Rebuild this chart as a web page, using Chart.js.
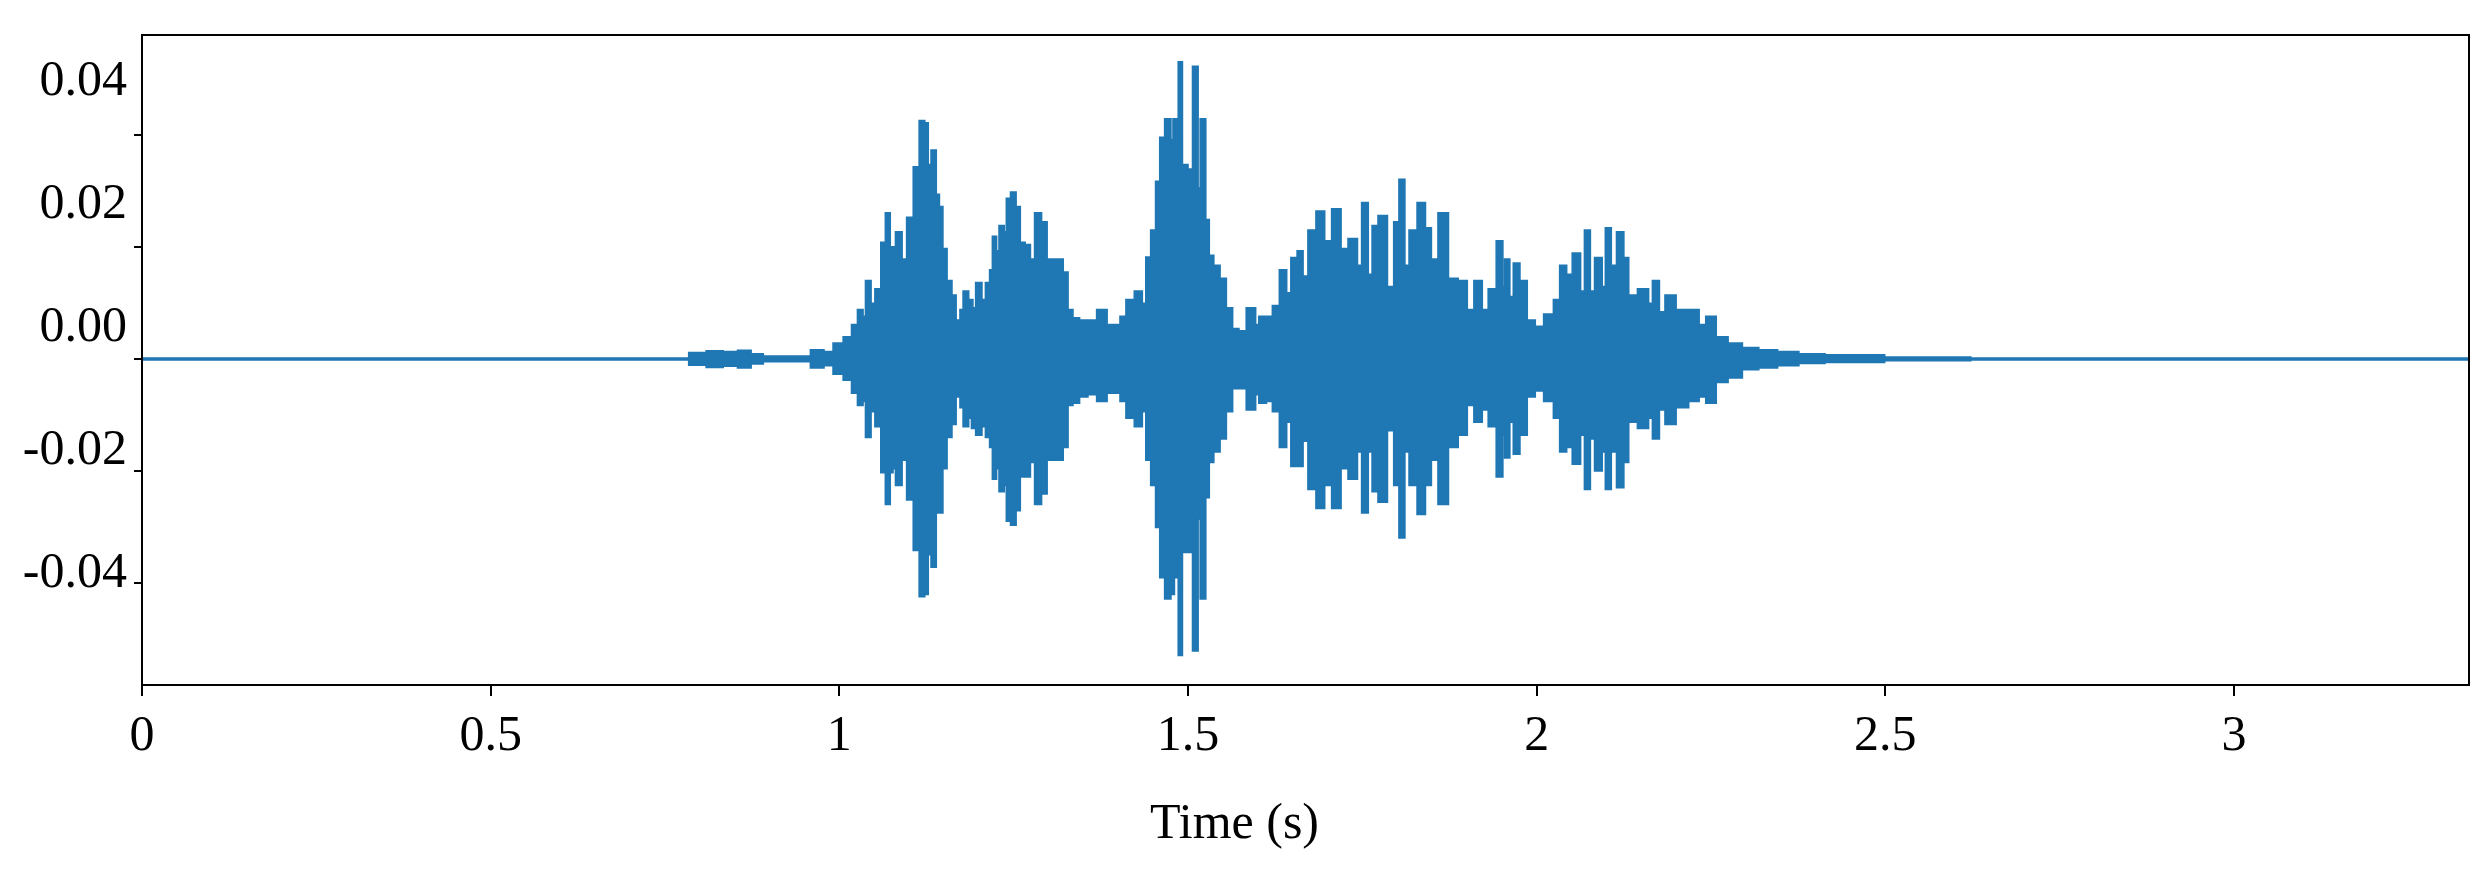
<!DOCTYPE html>
<html>
<head>
<meta charset="utf-8">
<script src="https://cdn.jsdelivr.net/npm/chart.js@4.4.1/dist/chart.umd.min.js"></script>
<style>
  html, body { margin: 0; padding: 0; background: #fff; }
  #wrap { width: 2487px; height: 872px; }
</style>
</head>
<body>
<div id="wrap"><canvas id="myChart"></canvas></div>
<script>
// envelope of the waveform (time in s, max / min per slot)
const time = [0.000, 0.770, 0.800, 0.820, 0.845, 0.865, 0.880, 0.900, 0.950, 0.969,
  0.985, 0.999, 1.014, 1.023, 1.031, 1.035, 1.042, 1.047, 1.057, 1.064,
  1.070, 1.074, 1.078, 1.085, 1.093, 1.102, 1.112, 1.119, 1.124, 1.129,
  1.136, 1.140, 1.145, 1.150, 1.157, 1.164, 1.169, 1.172, 1.176, 1.181,
  1.188, 1.193, 1.200, 1.207, 1.214, 1.219, 1.222, 1.227, 1.233, 1.238,
  1.243, 1.250, 1.255, 1.262, 1.269, 1.277, 1.285, 1.293, 1.301, 1.315,
  1.325, 1.329, 1.339, 1.348, 1.363, 1.377, 1.389, 1.401, 1.406, 1.418,
  1.430, 1.437, 1.444, 1.451, 1.458, 1.463, 1.472, 1.477, 1.482, 1.486,
  1.488, 1.494, 1.504, 1.511, 1.516, 1.521, 1.528, 1.531, 1.541, 1.549,
  1.559, 1.567, 1.577, 1.592, 1.600, 1.605, 1.618, 1.626, 1.638, 1.643,
  1.654, 1.661, 1.667, 1.679, 1.690, 1.700, 1.714, 1.723, 1.738, 1.746,
  1.754, 1.761, 1.769, 1.778, 1.792, 1.800, 1.807, 1.813, 1.823, 1.836,
  1.843, 1.853, 1.866, 1.879, 1.894, 1.905, 1.917, 1.925, 1.938, 1.948,
  1.953, 1.957, 1.964, 1.971, 1.979, 1.992, 2.002, 2.020, 2.030, 2.038,
  2.046, 2.058, 2.066, 2.073, 2.079, 2.089, 2.097, 2.102, 2.110, 2.121,
  2.127, 2.135, 2.156, 2.163, 2.171, 2.179, 2.191, 2.207, 2.227, 2.237,
  2.250, 2.263, 2.284, 2.304, 2.331, 2.358, 2.392, 2.433, 2.563, 2.680,
  3.340];

const upper = [0, 0, 0.0010, 0.0013, 0.0012, 0.0014, 0.0008, 0.0004, 0.0004, 0.0015,
  0.0012, 0.0027, 0.0038, 0.0060, 0.0087, 0.0075, 0.0139, 0.0098, 0.0124, 0.0207,
  0.0260, 0.0181, 0.0199, 0.0226, 0.0177, 0.0252, 0.0342, 0.0425, 0.0421, 0.0346,
  0.0372, 0.0293, 0.0271, 0.0196, 0.0139, 0.0113, 0.0068, 0.0053, 0.0087, 0.0120,
  0.0105, 0.0090, 0.0135, 0.0105, 0.0135, 0.0158, 0.0218, 0.0192, 0.0237, 0.0226,
  0.0286, 0.0297, 0.0271, 0.0207, 0.0203, 0.0177, 0.0260, 0.0244, 0.0177, 0.0177,
  0.0154, 0.0087, 0.0072, 0.0068, 0.0068, 0.0087, 0.0060, 0.0060, 0.0075, 0.0105,
  0.0120, 0.0098, 0.0181, 0.0229, 0.0316, 0.0395, 0.0428, 0.0391, 0.0428, 0.0308,
  0.0530, 0.0346, 0.0338, 0.0522, 0.0304, 0.0428, 0.0248, 0.0184, 0.0166, 0.0143,
  0.0090, 0.0053, 0.0049, 0.0090, 0.0060, 0.0075, 0.0075, 0.0094, 0.0158, 0.0117,
  0.0180, 0.0192, 0.0147, 0.0229, 0.0263, 0.0210, 0.0267, 0.0196, 0.0214, 0.0166,
  0.0278, 0.0150, 0.0237, 0.0255, 0.0128, 0.0244, 0.0320, 0.0166, 0.0229, 0.0278,
  0.0233, 0.0177, 0.0260, 0.0143, 0.0139, 0.0087, 0.0139, 0.0087, 0.0124, 0.0210,
  0.0128, 0.0177, 0.0110, 0.0170, 0.0139, 0.0068, 0.0057, 0.0079, 0.0105, 0.0166,
  0.0150, 0.0188, 0.0120, 0.0229, 0.0120, 0.0180, 0.0128, 0.0233, 0.0166, 0.0226,
  0.0180, 0.0113, 0.0124, 0.0098, 0.0139, 0.0083, 0.0113, 0.0087, 0.0087, 0.0060,
  0.0075, 0.0038, 0.0027, 0.0019, 0.0015, 0.0012, 0.0008, 0.0006, 0.0002, 0,
  0];

const lower = [0, 0, -0.0010, -0.0014, -0.0012, -0.0015, -0.0008, -0.0004, -0.0004, -0.0015,
  -0.0011, -0.0026, -0.0037, -0.0060, -0.0082, -0.0075, -0.0139, -0.0093, -0.0120, -0.0202,
  -0.0259, -0.0202, -0.0195, -0.0225, -0.0180, -0.0251, -0.0341, -0.0424, -0.0420, -0.0349,
  -0.0371, -0.0274, -0.0274, -0.0195, -0.0139, -0.0116, -0.0067, -0.0052, -0.0086, -0.0120,
  -0.0105, -0.0123, -0.0135, -0.0120, -0.0139, -0.0157, -0.0214, -0.0195, -0.0236, -0.0225,
  -0.0289, -0.0296, -0.0270, -0.0210, -0.0210, -0.0184, -0.0259, -0.0240, -0.0180, -0.0180,
  -0.0157, -0.0082, -0.0078, -0.0067, -0.0063, -0.0075, -0.0060, -0.0060, -0.0075, -0.0105,
  -0.0120, -0.0093, -0.0180, -0.0225, -0.0300, -0.0390, -0.0428, -0.0420, -0.0390, -0.0345,
  -0.0529, -0.0345, -0.0345, -0.0521, -0.0285, -0.0428, -0.0247, -0.0184, -0.0165, -0.0142,
  -0.0093, -0.0052, -0.0052, -0.0090, -0.0063, -0.0078, -0.0075, -0.0093, -0.0157, -0.0112,
  -0.0191, -0.0191, -0.0146, -0.0232, -0.0266, -0.0225, -0.0266, -0.0195, -0.0214, -0.0165,
  -0.0274, -0.0165, -0.0236, -0.0255, -0.0127, -0.0225, -0.0319, -0.0165, -0.0225, -0.0277,
  -0.0225, -0.0180, -0.0259, -0.0157, -0.0135, -0.0082, -0.0112, -0.0090, -0.0120, -0.0210,
  -0.0135, -0.0176, -0.0112, -0.0169, -0.0135, -0.0067, -0.0056, -0.0075, -0.0105, -0.0165,
  -0.0157, -0.0187, -0.0135, -0.0232, -0.0142, -0.0199, -0.0165, -0.0232, -0.0165, -0.0229,
  -0.0184, -0.0112, -0.0123, -0.0105, -0.0142, -0.0090, -0.0116, -0.0086, -0.0075, -0.0067,
  -0.0078, -0.0041, -0.0033, -0.0018, -0.0015, -0.0011, -0.0007, -0.0005, -0.0002, 0,
  0];

const xTicks = [0, 0.5, 1, 1.5, 2, 2.5, 3];
const yTicks = [-0.04, -0.02, 0, 0.02, 0.04];

const blue = '#1f77b4';
const serif = 'Liberation Serif';

// box round the plot area
const frame = {
  id: 'frame',
  afterDraw(chart) {
    const { ctx, chartArea: a } = chart;
    ctx.save();
    ctx.strokeStyle = '#000';
    ctx.lineWidth = 2;
    ctx.strokeRect(a.left, a.top, a.right - a.left, a.bottom - a.top);
    ctx.restore();
  }
};

const ctx = document.getElementById('myChart');

new Chart(ctx, {
  type: 'line',
  data: {
    labels: time,
    datasets: [{
      data: upper,
      borderColor: blue,
      backgroundColor: blue,
      borderWidth: 3,
      pointRadius: 0,
      stepped: 'middle',
      fill: '+1'
    }, {
      data: lower,
      borderColor: blue,
      backgroundColor: blue,
      borderWidth: 3,
      pointRadius: 0,
      stepped: 'middle',
      fill: false
    }]
  },
  options: {
    animation: false,
    responsive: true,
    maintainAspectRatio: false,
    devicePixelRatio: 1,
    layout: { padding: { left: 0, right: 18, top: 24, bottom: 0 } },
    plugins: {
      legend: { display: false },
      tooltip: { enabled: false },
      title: {
        display: true,
        position: 'bottom',
        text: 'Time (s)',
        color: '#000',
        font: { family: serif, size: 50, weight: 'normal' },
        padding: { top: 0, bottom: 17 }
      }
    },
    scales: {
      x: {
        type: 'linear',
        position: 'bottom',
        min: 0,
        max: 3.337,
        afterBuildTicks: s => { s.ticks = xTicks.map(v => ({ value: v })); },
        afterFit: s => { s.height = 110; },
        ticks: {
          color: '#000',
          font: { family: serif, size: 50 },
          padding: 11,
          maxRotation: 0,
          autoSkip: false,
          callback: v => String(v)
        },
        grid: { display: true, drawOnChartArea: false, drawTicks: true, tickLength: 11, color: '#000', lineWidth: 2 },
        border: { display: false }
      },
      y: {
        position: 'left',
        weight: 0,
        min: -0.0583,
        max: 0.0579,
        afterBuildTicks: s => { s.ticks = yTicks.map(v => ({ value: v })); },
        afterFit: s => { s.width = 10; },
        ticks: { display: false },
        grid: { display: true, drawOnChartArea: false, drawTicks: true, tickLength: 8, color: '#000', lineWidth: 2 },
        border: { display: false }
      },
      // labels sit a little above the tick marks in the original figure
      yLabels: {
        position: 'left',
        weight: 1,
        min: -0.05808,
        max: 0.04768,
        afterBuildTicks: s => { s.ticks = yTicks.map(v => ({ value: v })); },
        afterFit: s => { s.width = 132; },
        ticks: {
          color: '#000',
          font: { family: serif, size: 50 },
          padding: 5,
          callback: v => (Math.abs(v) < 1e-9 ? 0 : v).toFixed(2)
        },
        grid: { display: false, drawTicks: false },
        border: { display: false }
      }
    }
  },
  plugins: [frame]
});
</script>
</body>
</html>
